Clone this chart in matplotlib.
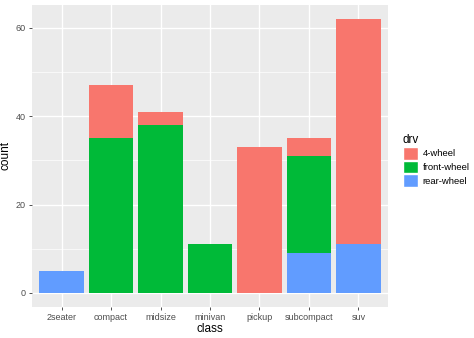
import numpy as np
import matplotlib.pyplot as plt
from matplotlib.patches import Patch

plt.rcParams['font.family'] = ['Liberation Sans', 'DejaVu Sans']

classes = ['2seater', 'compact', 'midsize', 'minivan', 'pickup', 'subcompact', 'suv']
rear_wheel = [5, 0, 0, 0, 0, 9, 11]
front_wheel = [0, 35, 38, 11, 0, 22, 0]
four_wheel = [0, 12, 3, 0, 33, 4, 51]

colors = {'4-wheel': '#F8766D', 'front-wheel': '#00BA38', 'rear-wheel': '#619CFF'}

fig = plt.figure(figsize=(4.74, 3.38), dpi=100)
ax = fig.add_axes([32 / 474, 31.3 / 338, 356 / 474, 301.7 / 338])
ax.set_facecolor('#EBEBEB')

x = np.arange(1, len(classes) + 1)
r = np.array(rear_wheel)
f = np.array(front_wheel)
w = np.array(four_wheel)
ax.bar(x, r, width=0.9, color=colors['rear-wheel'], zorder=3)
ax.bar(x, f, width=0.9, bottom=r, color=colors['front-wheel'], zorder=3)
ax.bar(x, w, width=0.9, bottom=r + f, color=colors['4-wheel'], zorder=3)

total = (r + f + w).max()
ax.set_xlim(0.4, len(classes) + 0.6)
ax.set_ylim(-0.05 * total, 1.05 * total)

ax.set_xticks(x)
ax.set_xticklabels(classes)
ax.set_yticks([0, 20, 40, 60])
ax.set_yticks([10, 30, 50], minor=True)
ax.grid(which='major', color='white', linewidth=1.0, zorder=0)
ax.grid(which='minor', axis='y', color='white', linewidth=0.5, zorder=0)
ax.tick_params(which='major', length=2.5, width=0.6, color='#333333',
               labelsize=6.5, labelcolor='#4D4D4D', pad=2)
ax.tick_params(which='minor', length=0)
for s in ax.spines.values():
    s.set_visible(False)

ax.set_xlabel('class', fontsize=8.5, labelpad=1)
ax.set_ylabel('count', fontsize=8.5, labelpad=3)

handles = [Patch(facecolor=c, edgecolor='white') for c in colors.values()]
leg = fig.legend(handles, list(colors.keys()), title='drv', loc='center left',
                 bbox_to_anchor=(394 / 474, 0.525), frameon=False,
                 fontsize=6.8, title_fontsize=8.5, handlelength=1.6,
                 handleheight=1.7, handletextpad=0.5, labelspacing=0.1,
                 alignment='left')

fig.savefig('out.png', dpi=100)
